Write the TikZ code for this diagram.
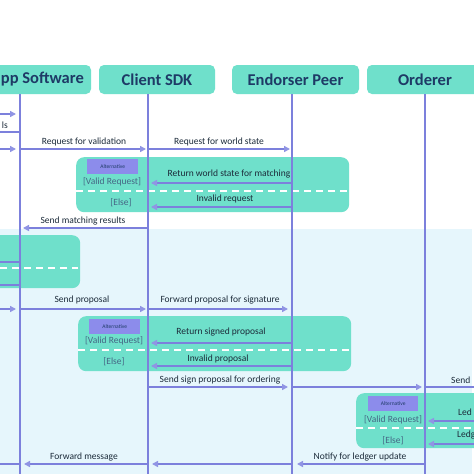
\documentclass[tikz,border=0pt]{standalone}
\usepackage{fontspec}
\setmainfont{Carlito}
\usetikzlibrary{arrows.meta,calc}
\definecolor{tealbox}{HTML}{6FE0CB}
\definecolor{navy}{HTML}{1E3A66}
\definecolor{lline}{HTML}{7C80DC}
\definecolor{ahead}{HTML}{9094E4}
\definecolor{altlab}{HTML}{8C8CEB}
\definecolor{bgblue}{HTML}{E6F6FC}
\definecolor{guardc}{HTML}{456685}
\definecolor{labtxt}{HTML}{1C2B3A}
\tikzset{
  hdr/.style={fill=tealbox, rounded corners=5pt, minimum height=29pt, inner sep=0pt,
    font=\fontsize{16.5}{19}\selectfont\bfseries, text=navy},
  hdrtext/.style={inner sep=0pt, font=\fontsize{16.5}{19}\selectfont\bfseries, text=navy},
  life/.style={draw=lline, line width=2.2pt},
  msg/.style={draw=lline, line width=1.6pt, -{Triangle[length=6pt,width=6pt,color=ahead]}},
  plainmsg/.style={draw=lline, line width=1.6pt},
  lbl/.style={font=\fontsize{9.5}{11}\selectfont, text=labtxt, inner sep=0pt},
  altbox/.style={fill=tealbox, rounded corners=8pt, inner sep=0pt, anchor=north west},
  altlabel/.style={fill=altlab, inner sep=0pt, anchor=north west, font=\fontsize{5.5}{6}\selectfont, text=navy},
  guard/.style={font=\fontsize{9.5}{11}\selectfont, text=guardc, inner sep=0pt},
  sep/.style={draw=white, line width=1.5pt, dash pattern=on 7pt off 5pt}
}
\begin{document}
\begin{tikzpicture}[x=1pt,y=-1pt]
\useasboundingbox (0,0) rectangle (474,474);
\clip (0,0) rectangle (474,474);
\fill[white] (0,0) rectangle (474,474);
\fill[bgblue] (0,229) rectangle (472,474);

% headers
\node[hdr, minimum width=110pt] (hA) at (36,79.5) {};
\node[hdrtext, anchor=east] (hAt) at (84,79.5) {pp Software};
\node[hdr, minimum width=116pt] (hC) at (157,79.5) {Client SDK};
\node[hdr, minimum width=127pt] (hE) at (295.5,79.5) {Endorser Peer};
\node[hdr, minimum width=116pt] (hO) at (425,79.5) {Orderer};

% lifeline anchors
\coordinate (A) at (20,94);
\coordinate (C) at (148,94);
\coordinate (E) at (292,94);
\coordinate (O) at (425,94);
\coordinate (L) at (0,94);
\coordinate (R) at (474,94);

% alternative boxes
\node[altbox, minimum width=273pt, minimum height=55pt] (alt1) at (76,157) {};
\node[altbox, minimum width=273pt, minimum height=55pt] (alt2) at (78,316) {};
\node[altbox, minimum width=140pt, minimum height=55pt] (alt3) at (356,393) {};
\node[altbox, minimum width=110pt, minimum height=53pt] (alt0) at (-30,235) {};

\draw[sep] (alt1.west |- 0,191) -- (358,191);
\draw[sep] (alt2.west |- 0,350) -- (alt2.east |- 0,350);
\draw[sep] (alt3.west |- 0,428) -- (474,428);
\draw[sep] (0,268) -- (78,268);

\node[altlabel, minimum width=51pt, minimum height=15pt] (al1) at (87,159) {Alternative};
\node[altlabel, minimum width=51pt, minimum height=15pt] (al2) at (89,319) {Alternative};
\node[altlabel, minimum width=50pt, minimum height=15pt] (al3) at (368,396) {Alternative};

\node[guard] (g1v) at (112,182) {[Valid Request]};
\node[guard] (g1e) at (121,203) {[Else]};
\node[guard] (g2v) at (114,341) {[Valid Request]};
\node[guard] (g2e) at (114,362) {[Else]};
\node[guard] (g3v) at (393,420) {[Valid Request]};
\node[guard] (g3e) at (393,441) {[Else]};

% lifelines
\draw[life] (A) -- (A |- 0,474);
\draw[life] (C) -- (C |- 0,474);
\draw[life] (E) -- (E |- 0,474);
\draw[life] (O) -- (O |- 0,474);

% messages
\draw[msg, shorten >=4pt] (L |- 0,114) -- (A |- 0,114);
\draw[plainmsg] (A |- 0,132) -- (L |- 0,132);
\node[lbl, anchor=east] (t0) at (8,125) {ls};
\draw[msg, shorten >=4pt] (L |- 0,149) -- (A |- 0,149);

\draw[msg, shorten >=2pt] (A |- 0,149) -- (C |- 0,149);
\node[lbl] (t1) at (84,142) {Request for validation};
\draw[msg, shorten >=2pt] (C |- 0,149) -- (E |- 0,149);
\node[lbl] (t2) at (219,142) {Request for world state};

\draw[msg, shorten >=3pt] (E |- 0,183) -- (C |- 0,183);
\node[lbl] (t3) at (229,174) {Return world state for matching};
\draw[msg, shorten >=3pt] (E |- 0,207) -- (C |- 0,207);
\node[lbl] (t4) at (225,199) {Invalid request};

\draw[msg, shorten >=3pt] (C |- 0,228) -- (A |- 0,228);
\node[lbl] (t5) at (83,221) {Send matching results};

\draw[plainmsg] (A |- 0,262) -- (L |- 0,262);
\draw[plainmsg] (A |- 0,285) -- (L |- 0,285);

\draw[msg, shorten >=4pt] (L |- 0,309) -- (A |- 0,309);
\draw[msg, shorten >=2pt] (A |- 0,309) -- (C |- 0,309);
\node[lbl] (t6) at (82,300) {Send proposal};
\draw[msg, shorten >=4pt] (C |- 0,309) -- (E |- 0,309);
\node[lbl] (t7) at (220,300) {Forward proposal for signature};

\draw[msg, shorten >=3pt] (E |- 0,343) -- (C |- 0,343);
\node[lbl] (t8) at (221,332) {Return signed proposal};
\draw[msg, shorten >=3pt] (E |- 0,366) -- (C |- 0,366);
\node[lbl] (t9) at (218,359) {Invalid proposal};

\draw[msg, shorten >=4pt] (C |- 0,387) -- (E |- 0,387);
\draw[msg, shorten >=3pt] (E |- 0,387) -- (O |- 0,387);
\node[lbl] (t10) at (220,380) {Send sign proposal for ordering};
\draw[plainmsg] (O |- 0,387) -- (R |- 0,387);
\node[lbl, anchor=west] (t11) at (451,380) {Send};

\draw[msg, shorten >=3pt] (R |- 0,421) -- (O |- 0,421);
\node[lbl, anchor=west] (t12) at (458,412) {Led};
\draw[msg, shorten >=3pt] (R |- 0,444) -- (O |- 0,444);
\node[lbl, anchor=west] (t13) at (457,435) {Ledg};

\draw[msg, shorten >=5pt] (O |- 0,464) -- (E |- 0,464);
\node[lbl] (t14) at (360,457) {Notify for ledger update};
\draw[msg, shorten >=4pt] (E |- 0,464) -- (C |- 0,464);
\draw[msg, shorten >=4pt] (C |- 0,464) -- (A |- 0,464);
\node[lbl] (t15) at (84,457) {Forward message};
\draw[plainmsg] (A |- 0,464) -- (L |- 0,464);
\end{tikzpicture}
\end{document}
